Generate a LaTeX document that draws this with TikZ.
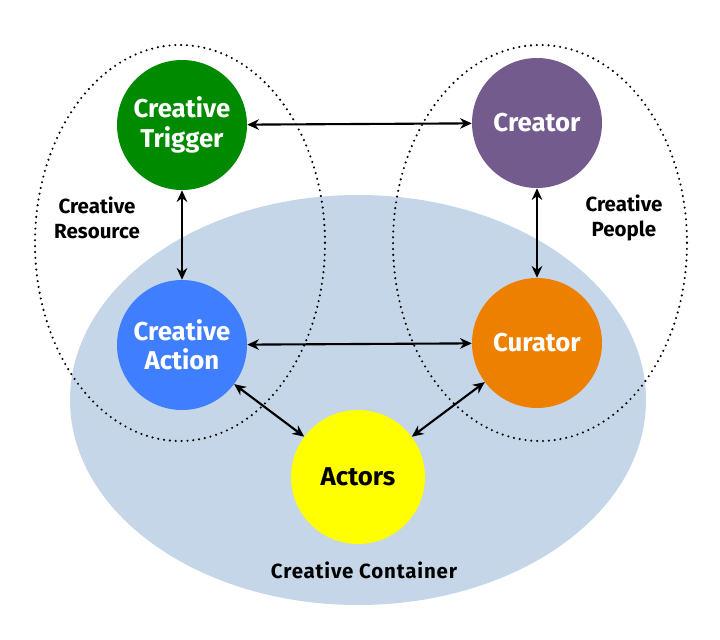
\documentclass[tikz,border=0pt]{standalone}
\usepackage{fontspec}
\setmainfont{Fira Sans}
\usetikzlibrary{arrows.meta}
\begin{document}
\begin{tikzpicture}[x=0.03cm,y=-0.03cm,
  circ/.style={circle,minimum size=130*0.03cm,inner sep=0pt,align=center,text=white,font=\bfseries\fontsize{22}{25}\selectfont},
  lbl/.style={align=center,font=\bfseries\fontsize{17.5}{21}\selectfont},
  dots/.style={line width=2pt,dash pattern=on 0pt off 5pt,line cap=round},
  arr/.style={{Stealth[length=10pt,width=9pt]}-{Stealth[length=10pt,width=9pt]},line width=1.8pt}]
\useasboundingbox (0,0) rectangle (720,640);
\fill[fill={rgb,255:red,197;green,214;blue,233}] (358,400) ellipse [x radius=288, y radius=205];
\draw[dots] (180,243) ellipse [x radius=145, y radius=198];
\draw[dots] (540,243) ellipse [x radius=147, y radius=198];
\node[circ,fill={rgb,255:red,0;green,138;blue,0}] (trig) at (182,125) {Creative\\Trigger};
\node[circ,fill={rgb,255:red,116;green,91;blue,142}] (creator) at (537,123) {Creator};
\node[circ,fill={rgb,255:red,63;green,127;blue,255}] (action) at (182,345) {Creative\\Action};
\node[circ,fill={rgb,255:red,238;green,128;blue,0}] (curator) at (537,343) {Curator};
\node[circ,fill={rgb,255:red,255;green,255;blue,0},text=black,minimum size=134*0.03cm] (actors) at (358,477) {Actors};
\node[lbl] (res) at (97,218) {Creative\\Resource};
\node[lbl] (peo) at (624,218) {Creative\\People};
\node[lbl] (cont) at (364,570) {\addfontfeature{LetterSpace=4}Creative Container};
\draw[arr] (trig) -- (creator);
\draw[arr] (trig) -- (action);
\draw[arr] (creator) -- (curator);
\draw[arr] (action) -- (curator);
\draw[arr] (action) -- (actors);
\draw[arr] (curator) -- (actors);
\end{tikzpicture}
\end{document}
